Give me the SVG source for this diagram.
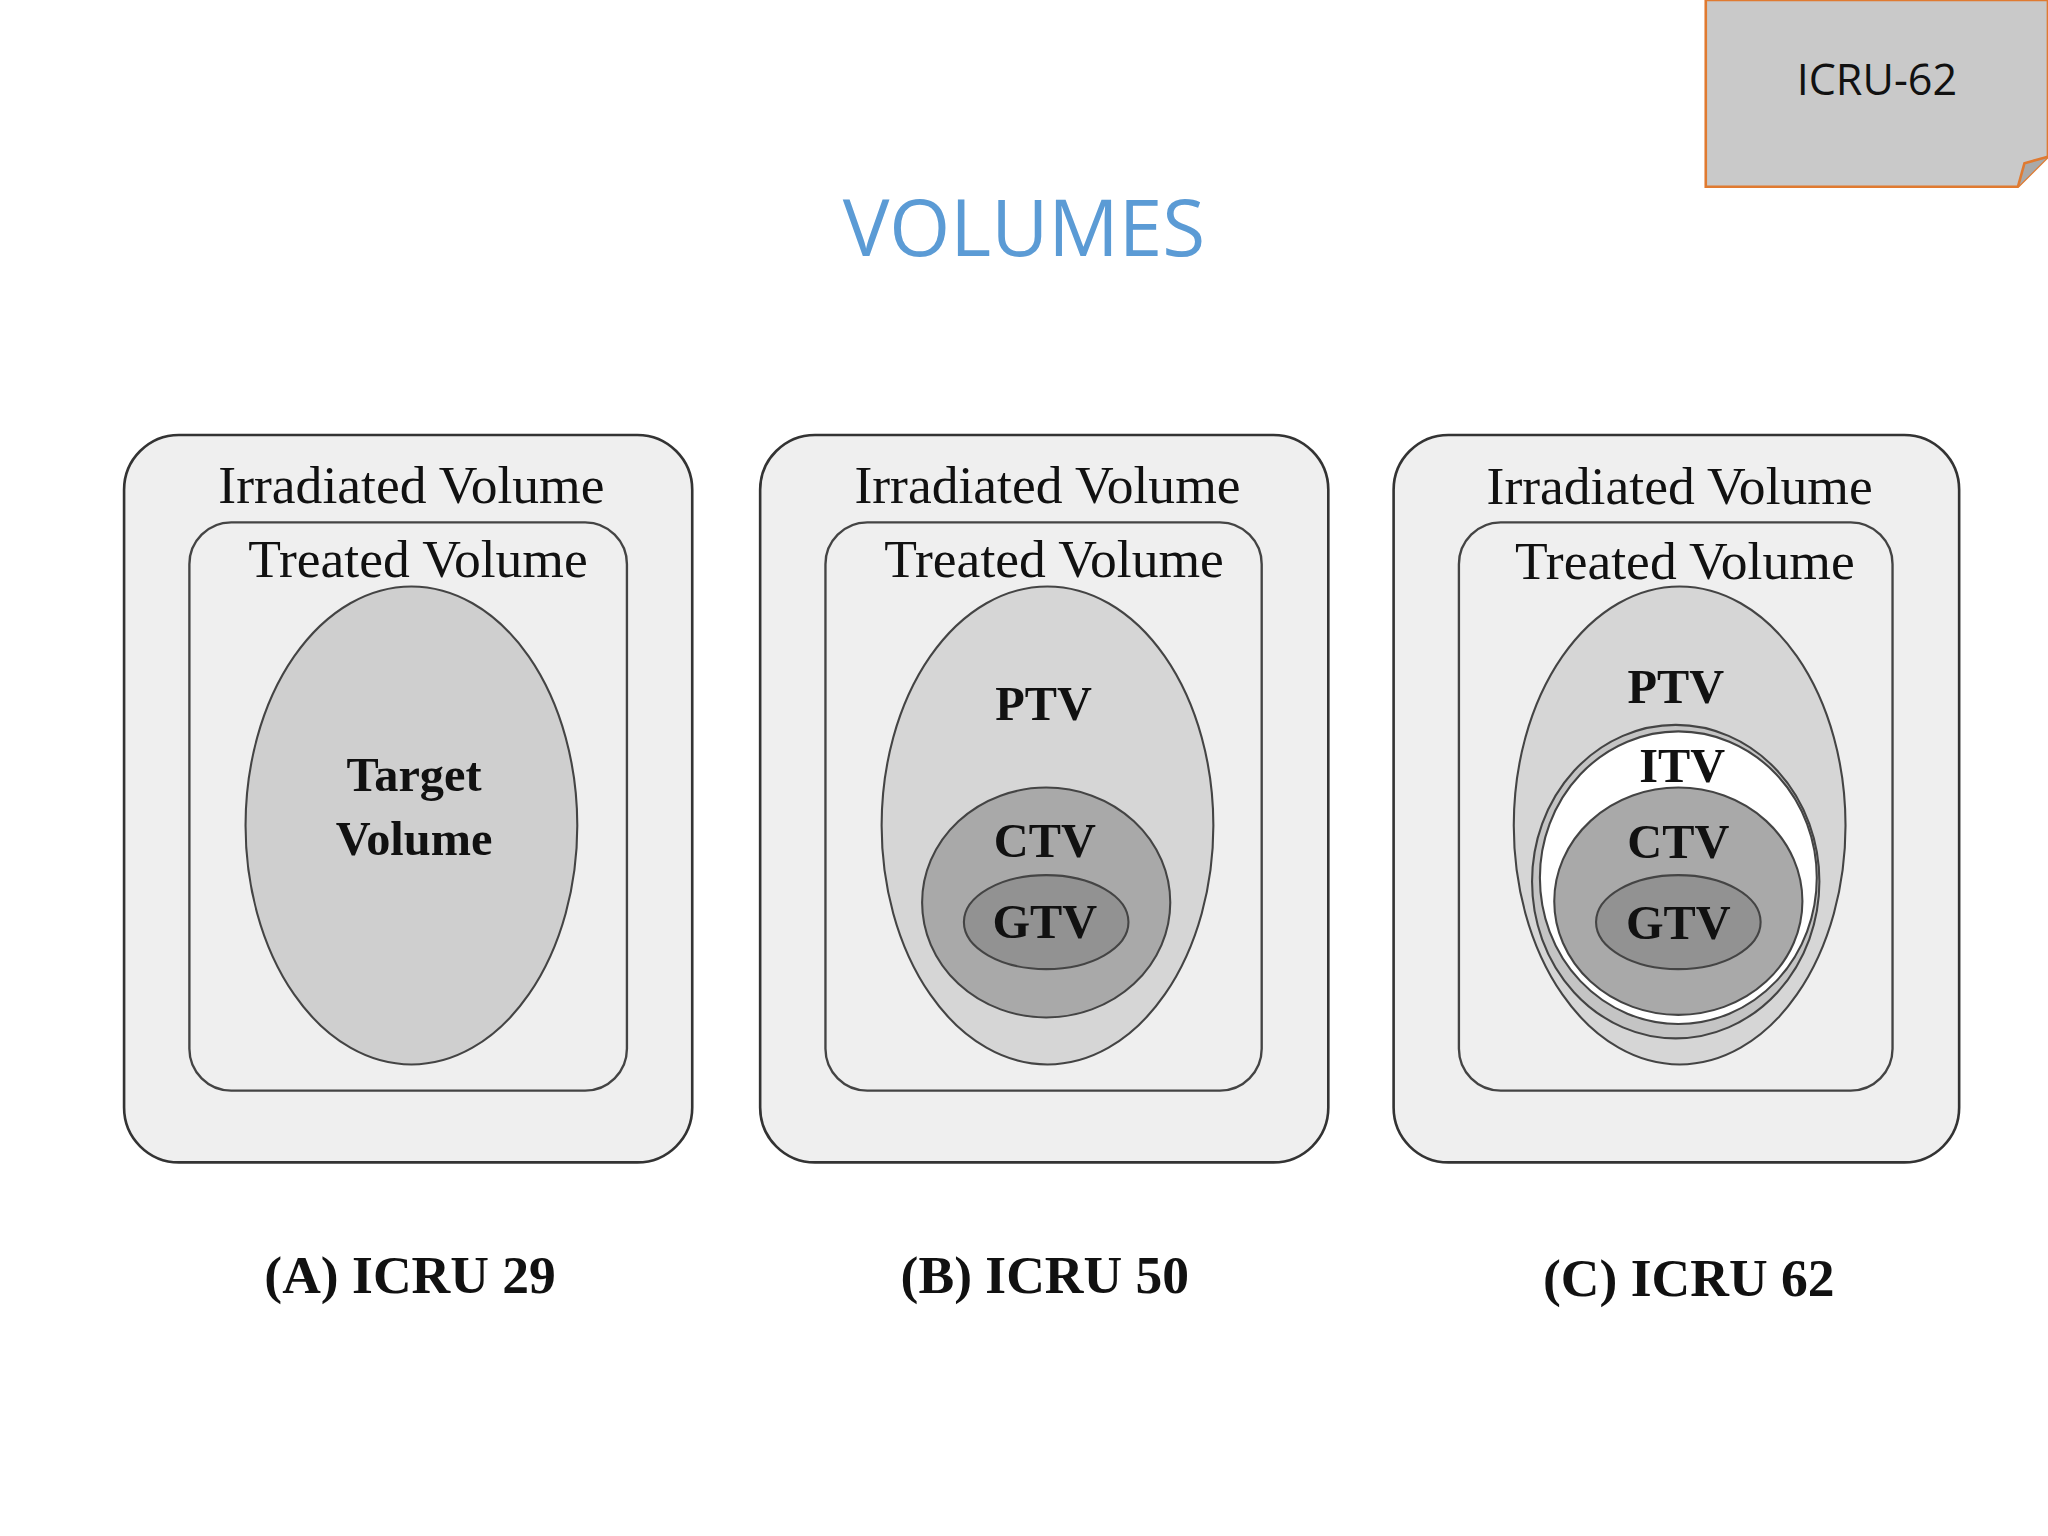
<svg xmlns="http://www.w3.org/2000/svg" width="2048" height="1536" viewBox="0 0 2048 1536">
<style>
.o{fill:#efefef;stroke:#333;stroke-width:2}
.i{fill:#efefef;stroke:#444;stroke-width:1.8}
.e{stroke:#444;stroke-width:1.6}
.s{font-family:"Liberation Serif",serif;font-size:41px;fill:#111;text-anchor:middle}
.b{font-family:"Liberation Serif",serif;font-size:37px;font-weight:bold;fill:#111;text-anchor:middle}
.c{font-family:"Liberation Serif",serif;font-size:41px;font-weight:bold;fill:#111;text-anchor:middle}
</style>
<rect width="2048" height="1536" fill="#fff"/>
<g transform="scale(1.3061)">
<g id="tag">
<path d="M1306 0H1568V120L1545 143H1306Z" fill="#c9c9c9" stroke="#e07a30" stroke-width="2"/>
<path d="M1545 143L1550 125L1568 120" fill="#a9a9a9" stroke="#e07a30" stroke-width="2"/>
<text x="1437" y="73" font-family="Open Sans,sans-serif" font-size="33" text-anchor="middle" fill="#111">ICRU-62</text>
</g>
<text id="title" x="784" y="196" font-family="Open Sans,sans-serif" font-size="60" text-anchor="middle" fill="#5b9bd5">VOLUMES</text>
<g id="panelA">
<rect class="o" x="95" y="333" width="435" height="557" rx="42"/>
<text class="s" x="315" y="385">Irradiated Volume</text>
<rect class="i" x="145" y="400" width="335" height="435" rx="32"/>
<text class="s" x="320" y="442">Treated Volume</text>
<ellipse class="e" cx="315" cy="632" rx="127" ry="183" fill="#cfcfcf"/>
<text class="b" x="317" y="606">Target</text>
<text class="b" x="317" y="655">Volume</text>
<text class="c" x="314" y="990">(A) ICRU 29</text>
</g>
<g id="panelB">
<rect class="o" x="582" y="333" width="435" height="557" rx="42"/>
<text class="s" x="802" y="385">Irradiated Volume</text>
<rect class="i" x="632" y="400" width="334" height="435" rx="32"/>
<text class="s" x="807" y="442">Treated Volume</text>
<ellipse class="e" cx="802" cy="632" rx="127" ry="183" fill="#d6d6d6"/>
<text class="b" x="799" y="551">PTV</text>
<ellipse class="e" cx="801" cy="691" rx="95" ry="88" fill="#a9a9a9"/>
<text class="b" x="800" y="656">CTV</text>
<ellipse class="e" cx="801" cy="706" rx="63" ry="36" fill="#929292"/>
<text class="b" x="800" y="718">GTV</text>
<text class="c" x="800" y="990">(B) ICRU 50</text>
</g>
<g id="panelC">
<rect class="o" x="1067" y="333" width="433" height="557" rx="42"/>
<text class="s" x="1286" y="386">Irradiated Volume</text>
<rect class="i" x="1117" y="400" width="332" height="435" rx="32"/>
<text class="s" x="1290" y="443">Treated Volume</text>
<ellipse class="e" cx="1286" cy="632" rx="127" ry="183" fill="#d6d6d6"/>
<text class="b" x="1283" y="538">PTV</text>
<ellipse class="e" cx="1283" cy="675" rx="110" ry="120" fill="#c4c4c4"/>
<ellipse class="e" cx="1285" cy="672" rx="106" ry="112" fill="#fff"/>
<text class="b" x="1288" y="599">ITV</text>
<ellipse class="e" cx="1285" cy="690" rx="95" ry="87" fill="#a9a9a9"/>
<text class="b" x="1285" y="657">CTV</text>
<ellipse class="e" cx="1285" cy="706" rx="63" ry="36" fill="#929292"/>
<text class="b" x="1285" y="719">GTV</text>
<text class="c" x="1293" y="992">(C) ICRU 62</text>
</g>
</g>
</svg>
